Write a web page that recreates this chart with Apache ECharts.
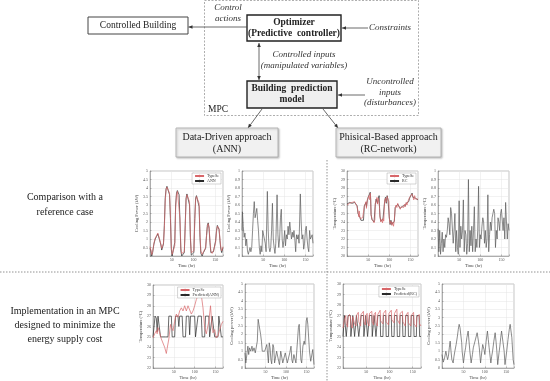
<!DOCTYPE html>
<html><head><meta charset="utf-8">
<script src="https://cdn.jsdelivr.net/npm/echarts@6/dist/echarts.min.js"></script>
<style>html,body{margin:0;padding:0;background:#fff}#c{width:550px;height:381px}</style>
</head><body><div id="c"></div>
<script>
// ---------------- DATA (time in hr, value) ----------------
const xTicks = [50, 100, 150];
const annCmpTypeSe = [[0,0.55],[2,0.35],[4,0.08],[6,0.25],[9,0.75],[12,1.05],[15,1.2],[18,1.35],[20,1.3],[22,1.0],[25,0.7],[27,0.45],[29,0.5],[31,0.75],[33,1.6],[35,3.2],[37,3.9],[39,4.05],[41,4.1],[43,4.05],[45,3.7],[47,2.4],[49,0.6],[51,0.1],[54,0.05],[57,0.6],[59,2.8],[61,3.6],[63,3.8],[65,3.9],[67,3.7],[69,2.2],[71,0.5],[73,0.15],[76,0.05],[79,0.25],[81,1.6],[83,3.3],[85,3.6],[87,3.7],[89,3.65],[91,3.2],[93,1.2],[95,0.2],[98,0.1],[101,0.3],[103,2.0],[105,3.3],[107,3.5],[109,3.6],[111,3.5],[113,3.1],[115,1.3],[117,0.3],[120,0.1],[123,0.25],[126,0.3],[128,0.5],[130,1.1],[132,1.7],[134,1.9],[136,1.7],[138,0.9],[140,0.3],[143,0.15],[146,0.3],[149,0.4],[151,0.8],[153,1.4],[155,1.75],[157,1.8],[159,1.6],[161,1.0],[163,0.5],[165,0.3],[168,0.55]];
const annCmpANN = [[0,0.45],[2,0.3],[4,0.0],[6,0.2],[9,0.7],[12,1.0],[15,1.15],[18,1.3],[20,1.25],[22,0.95],[25,0.65],[27,0.35],[29,0.45],[31,0.7],[33,1.8],[35,3.4],[37,3.95],[39,4.1],[41,4.15],[43,4.0],[45,3.6],[47,2.2],[49,0.4],[51,0.0],[54,0.0],[57,0.8],[59,3.0],[61,3.7],[63,3.85],[65,3.95],[67,3.6],[69,2.0],[71,0.3],[73,0.0],[76,0.0],[79,0.2],[81,1.8],[83,3.4],[85,3.65],[87,3.75],[89,3.6],[91,3.0],[93,1.0],[95,0.05],[98,0.0],[101,0.2],[103,2.2],[105,3.4],[107,3.55],[109,3.6],[111,3.45],[113,2.9],[115,1.1],[117,0.15],[120,0.0],[123,0.2],[126,0.25],[128,0.45],[130,1.2],[132,1.8],[134,1.95],[136,1.6],[138,0.8],[140,0.2],[143,0.1],[146,0.25],[149,0.35],[151,0.9],[153,1.5],[155,1.8],[157,1.85],[159,1.55],[161,0.9],[163,0.4],[165,0.2],[168,0.5]];
const annErr = [[0,0.3],[1,0.52],[3,0.35],[5,0.22],[7,0.27],[9,0.12],[11,0.2],[13,0.06],[15,0.02],[17,0.04],[19,0.1],[21,0.05],[23,0.1],[25,0.3],[27,0.5],[29,0.64],[31,0.45],[33,0.5],[35,0.56],[37,0.42],[39,0.3],[41,0.1],[43,0.02],[45,0.12],[47,0.05],[49,0.3],[51,0.28],[53,0.3],[55,0.15],[57,0.05],[60,0.76],[62,0.3],[64,0.1],[66,0.05],[68,0.1],[70,0.3],[72,0.62],[74,0.2],[76,0.1],[78,0.03],[80,0.15],[83,0.72],[85,0.25],[87,0.1],[89,0.2],[91,0.45],[93,0.55],[95,0.2],[97,0.1],[99,0.18],[101,0.3],[103,0.12],[105,0.25],[107,0.2],[109,0.35],[111,0.25],[113,0.4],[115,0.3],[117,0.2],[119,0.28],[121,0.22],[123,0.3],[125,0.2],[127,0.05],[129,0.25],[131,0.2],[133,0.25],[135,0.15],[138,0.73],[140,0.4],[142,0.2],[144,0.25],[146,0.08],[148,0.15],[150,0.3],[152,0.35],[154,0.2],[156,0.1],[158,0.05],[160,0.3],[162,0.2],[164,0.18],[166,0.25],[168,0.15]];
const rcCmpTypeSe = [[0,26.0],[3,26.1],[6,26.2],[9,26.1],[12,26.3],[15,26.2],[18,26.4],[21,26.2],[24,25.8],[26,25.2],[28,24.6],[29,25.3],[31,24.4],[33,24.3],[35,24.2],[37,24.5],[39,24.3],[41,25.8],[43,26.0],[45,26.4],[46,25.6],[48,26.6],[50,26.8],[52,27.1],[54,26.6],[55,27.4],[56,26.8],[57,24.8],[59,24.4],[61,24.2],[63,24.6],[64,23.9],[66,24.3],[67,26.2],[69,26.6],[71,26.9],[72,26.1],[74,26.8],[76,27.0],[77,25.8],[78,24.6],[80,24.0],[82,24.3],[84,23.9],[85,24.4],[87,24.1],[89,26.5],[91,26.8],[93,26.3],[95,27.0],[97,26.7],[99,26.4],[100,24.5],[102,23.8],[104,24.1],[106,23.6],[108,24.0],[110,23.5],[112,24.2],[114,25.6],[116,26.0],[118,25.7],[120,26.2],[122,25.9],[124,26.0],[126,25.5],[128,25.8],[130,25.6],[132,26.0],[134,25.7],[136,26.1],[138,25.8],[140,26.3],[142,26.0],[144,26.4],[146,26.3],[148,26.9],[150,26.7],[152,27.1],[154,27.3],[156,27.0],[158,26.6],[160,27.1],[162,26.7],[164,26.9],[166,26.6],[168,26.7]];
const rcCmpRC = [[0,26.1],[3,26.0],[6,26.3],[9,26.2],[12,26.2],[15,26.3],[18,26.3],[21,26.1],[24,25.9],[26,25.0],[28,24.8],[29,25.1],[31,24.5],[33,24.2],[35,24.3],[37,24.4],[39,24.2],[41,25.9],[43,26.1],[45,26.3],[46,25.8],[48,26.5],[50,26.9],[52,27.0],[54,26.7],[55,27.5],[56,26.6],[57,24.9],[59,24.3],[61,24.3],[63,24.5],[64,24.0],[66,24.2],[67,26.1],[69,26.7],[71,26.8],[72,26.2],[74,26.7],[76,27.1],[77,25.6],[78,24.7],[80,24.1],[82,24.2],[84,24.0],[85,24.3],[87,24.2],[89,26.4],[91,26.9],[93,26.2],[95,27.1],[97,26.6],[99,26.5],[100,24.6],[102,23.7],[104,24.2],[106,23.7],[108,23.9],[110,23.6],[112,24.1],[114,25.7],[116,25.9],[118,25.8],[120,26.1],[122,26.0],[124,25.9],[126,25.6],[128,25.7],[130,25.7],[132,25.9],[134,25.8],[136,26.0],[138,25.9],[140,26.2],[142,26.1],[144,26.3],[146,26.4],[148,26.8],[150,26.8],[152,27.0],[154,27.4],[156,26.9],[158,26.7],[160,27.0],[162,26.8],[164,26.8],[166,26.7],[168,26.6]];
const rcErr = [[0,0.32],[2,0.05],[4,0.3],[6,0.02],[8,0.15],[10,0.28],[12,0.05],[14,0.2],[16,0.1],[18,0.25],[20,0.22],[22,0.3],[24,0.45],[26,0.38],[28,0.25],[30,0.57],[32,0.5],[34,0.48],[36,0.15],[38,0.3],[40,0.5],[42,0.05],[44,0.3],[46,0.1],[48,0.02],[50,0.65],[52,0.1],[54,0.35],[56,0.2],[58,0.3],[60,0.66],[62,0.05],[64,0.3],[66,0.25],[68,0.02],[70,0.15],[72,0.9],[74,0.05],[76,0.3],[78,0.12],[80,0.35],[82,0.05],[84,0.3],[86,0.58],[88,0.05],[90,0.2],[92,0.1],[94,0.3],[96,0.82],[98,0.1],[100,0.25],[102,0.2],[104,0.35],[106,0.45],[108,0.4],[110,0.15],[112,0.3],[114,0.1],[116,0.2],[118,0.72],[120,0.05],[122,0.25],[124,0.4],[126,0.3],[128,0.45],[130,0.5],[132,0.55],[134,0.5],[136,0.1],[138,0.3],[140,0.2],[142,0.45],[144,0.4],[146,0.3],[148,0.5],[150,0.55],[152,0.54],[154,0.3],[156,0.45],[158,0.2],[160,0.63],[162,0.4],[164,0.2],[166,0.38],[168,0.3]];
const annMpcTypeSe = [[0,24.9],[4,25.3],[8,25.6],[10,25.3],[12,25.9],[16,25.4],[20,24.8],[24,24.8],[28,24.0],[32,23.4],[34,23.9],[38,24.8],[42,26.2],[44,25.9],[48,25.6],[52,26.5],[56,27.2],[60,26.9],[64,27.5],[68,27.8],[72,27.5],[76,28.0],[80,27.5],[84,28.0],[88,28.0],[92,27.2],[96,27.5],[100,28.0],[104,28.6],[108,29.0],[112,29.0],[116,29.0],[120,27.8],[124,25.9],[128,25.3],[132,25.4],[134,26.5],[138,28.0],[141,26.3],[144,25.4],[148,25.7],[152,24.9],[156,25.1],[160,25.7],[164,26.2],[168,26.5]];
const annMpcPred = [[0,25.0],[3,25.0],[5,27.0],[8,26.8],[10,25.5],[12,27.0],[16,27.0],[18,25.0],[24,25.0],[30,25.0],[36,25.0],[38,27.0],[44,27.0],[46,25.0],[52,25.0],[54,27.0],[60,27.0],[62,26.0],[64,27.0],[70,27.0],[72,25.0],[78,25.0],[80,27.0],[86,27.0],[88,25.2],[90,27.0],[100,27.0],[102,25.0],[106,25.0],[108,27.0],[116,27.0],[118,25.0],[124,25.0],[126,27.0],[134,27.0],[136,25.0],[140,25.0],[142,27.0],[146,27.0],[148,25.0],[156,25.0],[158,27.0],[162,27.0],[164,25.0],[168,25.0]];
const annMpcPower = [[0,0.9],[2,0.3],[5,0.9],[7,1.3],[9,0.8],[11,1.2],[14,1.0],[17,1.3],[19,1.0],[22,1.2],[25,0.9],[28,1.0],[30,1.6],[32,2.9],[34,2.6],[36,2.5],[38,2.0],[40,1.6],[42,1.0],[45,1.1],[48,1.0],[51,1.0],[53,1.4],[55,1.3],[57,0.3],[59,1.5],[61,1.2],[63,0.5],[65,0.25],[68,1.4],[70,1.2],[72,0.3],[75,0.25],[77,1.0],[80,1.1],[82,0.4],[84,0.2],[87,1.0],[90,1.1],[92,0.3],[95,0.2],[98,0.9],[101,1.0],[103,0.3],[106,0.2],[109,0.9],[112,1.3],[114,0.5],[116,0.3],[119,0.8],[122,0.9],[124,0.3],[127,0.25],[130,2.4],[132,2.6],[134,2.5],[136,0.5],[138,0.3],[141,1.3],[144,1.6],[146,1.4],[149,2.8],[151,3.0],[153,2.6],[155,2.7],[157,1.0],[160,0.4],[162,0.3],[165,1.1],[168,0.2]];
const rcMpcTypeSe = [[0,25.8],[2,25.9],[3,26.6],[6,27.0],[7,26.2],[10,25.9],[11,26.8],[14,27.1],[16,26.9],[17,26.1],[20,25.8],[21,26.9],[24,27.0],[25,26.2],[28,26.0],[29,27.0],[33,27.3],[34,26.4],[38,26.0],[39,27.1],[44,27.4],[45,26.4],[48,26.1],[49,27.0],[52,27.2],[53,26.3],[56,26.0],[57,27.2],[62,27.4],[63,26.4],[66,26.1],[67,27.1],[70,27.3],[71,26.3],[74,26.0],[75,27.1],[80,27.5],[81,26.5],[86,26.2],[87,27.2],[92,27.5],[93,26.4],[98,26.1],[99,27.2],[104,27.5],[105,26.6],[110,26.3],[111,27.2],[116,27.6],[117,26.6],[122,26.2],[123,27.2],[128,27.4],[129,26.4],[134,26.0],[135,27.0],[140,27.3],[141,26.3],[146,26.0],[147,27.0],[152,27.3],[153,26.2],[158,25.9],[159,26.8],[164,27.1],[165,26.2],[168,26.0]];
const rcMpcPred = [[0,25],[2,25],[3,27],[6,27],[7,25],[10,25],[11,27],[16,27],[17,25],[20,25],[21,27],[24,27],[25,25],[28,25],[29,27],[33,27],[34,25],[38,25],[39,27],[44,27],[45,25],[48,25],[49,27],[52,27],[53,25],[56,25],[57,27],[62,27],[63,25],[66,25],[67,27],[70,27],[71,25],[74,25],[75,27],[80,27],[81,25],[86,25],[87,27],[92,27],[93,25],[98,25],[99,27],[104,27],[105,25],[110,25],[111,27],[116,27],[117,25],[122,25],[123,27],[128,27],[129,25],[134,25],[135,27],[140,27],[141,25],[146,25],[147,27],[152,27],[153,25],[158,25],[159,27],[164,27],[165,25],[168,25]];
const rcMpcPower = [[0,0.8],[3,0.35],[6,0.6],[9,1.0],[11,1.05],[13,0.5],[15,0.7],[17,1.2],[19,1.6],[21,1.0],[23,0.5],[26,0.3],[28,0.7],[30,1.0],[33,1.4],[36,1.9],[38,2.3],[40,2.6],[42,2.4],[44,2.3],[46,1.5],[47,1.0],[50,0.3],[53,0.9],[55,1.2],[58,1.8],[61,2.2],[63,1.6],[65,1.0],[68,0.3],[71,0.8],[73,1.2],[77,1.6],[80,1.9],[82,2.1],[85,1.6],[87,1.2],[90,0.3],[93,1.0],[95,1.4],[98,1.1],[100,0.8],[103,1.6],[106,2.2],[108,1.7],[110,1.2],[114,0.3],[116,0.7],[118,1.0],[121,1.6],[124,2.1],[126,1.6],[128,1.0],[130,0.2],[133,0.9],[135,1.3],[137,1.8],[139,2.2],[142,1.6],[145,1.0],[147,0.2],[149,0.6],[151,1.0],[154,1.7],[157,2.3],[159,2.6],[161,2.2],[163,1.8],[166,0.5],[168,0.2]];

// ---------------- LAYOUT ----------------
const SERIF = '"Liberation Serif", "DejaVu Serif", serif';
const RED = '#d8676a', BLK = '#2a2a2a', GRY = '#5a5a5a';
const grids = [
  {left:150, top:171, width:73, height:85},
  {left:242, top:171, width:71, height:85},
  {left:347, top:171, width:71, height:85},
  {left:438, top:171, width:71, height:85},
  {left:153, top:285, width:70, height:84},
  {left:245, top:284, width:69, height:85},
  {left:343, top:284, width:78, height:85},
  {left:442, top:284, width:72, height:85}
];
const yCfg = [
  {min:0,max:5,interval:0.5,name:'Cooling Power (kW)'},
  {min:0,max:1,interval:0.1,name:'Cooling Power (kW)'},
  {min:20,max:30,interval:1,name:'Temperature (°C)'},
  {min:0,max:1,interval:0.1,name:'Temperature (°C)'},
  {min:22,max:30,interval:1,name:'Temperature (°C)'},
  {min:0,max:5,interval:0.5,name:'Cooling power (kW)'},
  {min:22,max:30,interval:1,name:'Temperature (°C)'},
  {min:0,max:5,interval:0.5,name:'Cooling power (kW)'}
];
const tiny = {fontSize:4, color:'#555', fontFamily:SERIF};
const split = {show:true, lineStyle:{color:'#e4e4e4', width:0.5}};
const xAxes = grids.map((g,i)=>({
  type:'value', gridIndex:i, min:0, max:168, interval:50,
  name:'Time (hr)', nameLocation:'middle', nameGap:7, nameTextStyle:{fontSize:4.5, color:'#444', fontFamily:SERIF},
  axisLine:{lineStyle:{color:'#777', width:0.5}}, axisTick:{inside:true, length:1.5, lineStyle:{color:'#777',width:0.5}},
  axisLabel:{...tiny, margin:2, formatter:v=> xTicks.includes(v) ? String(v) : ''},
  splitLine:split
}));
const yAxes = yCfg.map((c,i)=>({
  type:'value', gridIndex:i, min:c.min, max:c.max, interval:c.interval,
  name:c.name, nameLocation:'middle', nameGap:9, nameTextStyle:{fontSize:4.5, color:'#444', fontFamily:SERIF},
  axisLine:{show:true, lineStyle:{color:'#777', width:0.5}}, axisTick:{inside:true, length:1.5, lineStyle:{color:'#777',width:0.5}},
  axisLabel:{...tiny, margin:2},
  splitLine:split
}));
function ln(name, data, gi, color, w){
  return {type:'line', name, data, xAxisIndex:gi, yAxisIndex:gi, symbol:'none', showSymbol:false,
    color, itemStyle:{color}, lineStyle:{color, width:w||0.7}, animation:false, silent:true};
}
const series = [
  ln('ANN', annCmpANN, 0, BLK), ln('TypeSe', annCmpTypeSe, 0, RED),
  ln('ANN error', annErr, 1, GRY),
  ln('RC', rcCmpRC, 2, BLK), ln('TypeSe', rcCmpTypeSe, 2, RED),
  ln('RC error', rcErr, 3, GRY),
  ln('Predicted(ANN)', annMpcPred, 4, BLK), ln('TypeSe', annMpcTypeSe, 4, RED),
  ln('ANN power', annMpcPower, 5, GRY),
  ln('Predicted(RC)', rcMpcPred, 6, BLK), ln('TypeSe', rcMpcTypeSe, 6, RED),
  ln('RC power', rcMpcPower, 7, GRY)
];
function lg(names, g){
  return {data:names, orient:'vertical', right:550-(g.left+g.width)+2, top:g.top+2,
    itemWidth:9, itemHeight:3, itemGap:1, padding:[1,2], selectedMode:false,
    backgroundColor:'#fff', borderColor:'#aaa', borderWidth:0.5,
    textStyle:{fontSize:4, color:'#333', fontFamily:SERIF, padding:[0,0,0,-2]}};
}
const legends = [
  lg(['TypeSe','ANN'], grids[0]), lg(['TypeSe','RC'], grids[2]),
  lg(['TypeSe','Predicted(ANN)'], grids[4]), lg(['TypeSe','Predicted(RC)'], grids[6])
];

// ---------------- DIAGRAM GRAPHICS ----------------
function txt(x,y,s,font,fill){
  return {type:'text', x, y, silent:true, style:{text:s, font, fill:fill||'#222', textAlign:'center', textVerticalAlign:'middle', align:'center', verticalAlign:'middle'}};
}
function rect(x,y,w,h,st){ return {type:'rect', silent:true, shape:{x,y,width:w,height:h}, style:st}; }
function seg(x1,y1,x2,y2,st){ return {type:'line', silent:true, shape:{x1,y1,x2,y2}, style:st}; }
function head(x1,y1,x2,y2,col){
  const dx=x2-x1, dy=y2-y1, L=Math.hypot(dx,dy), ux=dx/L, uy=dy/L, hl=4, hw=1.8;
  const bx=x2-ux*hl, by=y2-uy*hl;
  return {type:'polygon', silent:true, shape:{points:[[x2,y2],[bx-uy*hw,by+ux*hw],[bx+uy*hw,by-ux*hw]]}, style:{fill:col||'#333'}};
}
function arrow(x1,y1,x2,y2,both){
  const a=[seg(x1,y1,x2,y2,{stroke:'#444',lineWidth:0.8}), head(x1,y1,x2,y2)];
  if(both) a.push(head(x2,y2,x1,y1));
  return a;
}
const F = (sz,st)=> (st||'') + ' ' + sz + 'px ' + SERIF;
const gfx = [
  // MPC dashed frame
  rect(204.5,0.5,214,115,{fill:'none', stroke:'#999', lineWidth:0.8, lineDash:[2,1.5]}),
  txt(218,109,'MPC',F(9.5)),
  // boxes
  rect(88,17,100,17,{fill:'#fff', stroke:'#444', lineWidth:1}),
  txt(138,25.5,'Controlled Building',F(9.5)),
  rect(247,15,94,26,{fill:'#fff', stroke:'#222', lineWidth:1.4}),
  txt(294,23,'Optimizer',F(9.5,'bold')),
  txt(294,34,'(Predictive  controller)',F(9.5,'bold')),
  rect(247,81,90,27,{fill:'#efefef', stroke:'#222', lineWidth:1.4}),
  txt(292,89,'Building  prediction',F(9.5,'bold')),
  txt(292,100,'model',F(9.5,'bold')),
  // italic annotations
  txt(228,8,'Control',F(9,'italic'),'#333'),
  txt(228,19,'actions',F(9,'italic'),'#333'),
  txt(390,28,'Constraints',F(9,'italic'),'#333'),
  txt(304,55,'Controlled inputs',F(9,'italic'),'#333'),
  txt(304,66,'(manipulated variables)',F(9,'italic'),'#333'),
  txt(390,82,'Uncontrolled',F(9,'italic'),'#333'),
  txt(390,93,'inputs',F(9,'italic'),'#333'),
  txt(390,103,'(disturbances)',F(9,'italic'),'#333'),
  ...arrow(247,27,188.5,27),
  ...arrow(368,28,342,28),
  ...arrow(259,43,259,80,true),
  ...arrow(365,95,338,95),
  ...arrow(262,109,248,128),
  ...arrow(323,109,338,128),
  // approach boxes
  rect(176,128,102,29,{fill:'#f1f1f1', stroke:'#aaa', lineWidth:0.8, shadowBlur:2, shadowColor:'rgba(0,0,0,0.25)', shadowOffsetX:1, shadowOffsetY:1}),
  txt(227,137,'Data-Driven approach',F(10)),
  txt(227,149,'(ANN)',F(10)),
  rect(336,128,105,29,{fill:'#f1f1f1', stroke:'#aaa', lineWidth:0.8, shadowBlur:2, shadowColor:'rgba(0,0,0,0.25)', shadowOffsetX:1, shadowOffsetY:1}),
  txt(388.5,137,'Phisical-Based approach',F(10)),
  txt(388.5,149,'(RC-network)',F(10)),
  // dividers
  seg(0,272,550,272,{stroke:'#777', lineWidth:0.8, lineDash:[1.5,1.5]}),
  seg(327,160,327,381,{stroke:'#777', lineWidth:0.8, lineDash:[1.5,1.5]}),
  // row labels
  txt(65,197,'Comparison with a',F(10)),
  txt(65,212,'reference case',F(10)),
  txt(65,311,'Implementation in an MPC',F(10)),
  txt(65,325,'designed to minimize the',F(10)),
  txt(65,339,'energy supply cost',F(10))
];

const chart = echarts.init(document.getElementById('c'), null, {renderer:'canvas'});
chart.setOption({
  animation:false,
  backgroundColor:'#fff',
  grid: grids.map(g=>({...g, show:true, borderColor:'#888', borderWidth:0.5, backgroundColor:'#fff', containLabel:false})),
  xAxis: xAxes, yAxis: yAxes, series, legend: legends,
  graphic: {elements: gfx}
});
</script></body></html>
